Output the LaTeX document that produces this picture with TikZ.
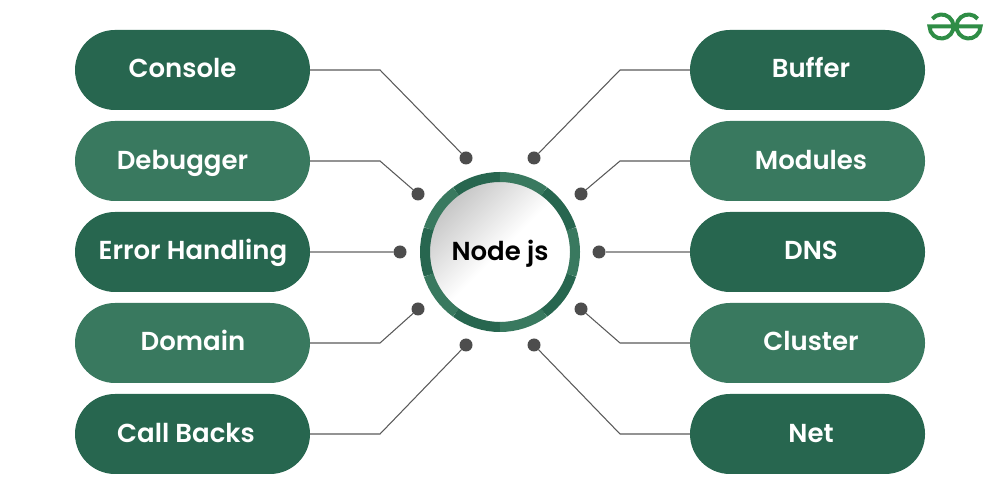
\documentclass[tikz,border=0pt]{standalone}
\usepackage{fontspec}
\setmainfont{Poppins SemiBold}
\definecolor{pilldark}{HTML}{27664F}
\definecolor{pilllight}{HTML}{39795F}
\definecolor{dotgray}{HTML}{4D4D4D}
\definecolor{gfggreen}{HTML}{2F8D46}
\tikzset{
  darkpill/.style={fill=pilldark,rounded corners=0.4cm,minimum width=2.35cm,minimum height=0.8cm,inner sep=0pt,outer sep=0pt},
  lightpill/.style={darkpill,fill=pilllight},
  pilltext/.style={text=white,font=\fontsize{7.4}{9}\selectfont,inner sep=0pt,anchor=base},
  enddot/.style={circle,fill=dotgray,minimum size=0.13cm,inner sep=0pt,outer sep=0pt},
  wire/.style={draw=black!65,line width=0.3pt},
  flatwire/.style={draw=black!40,line width=0.5pt},
  ringdark/.style={draw=pilldark,line width=0.1cm},
  ringlight/.style={draw=pilllight,line width=0.1cm},
  logoline/.style={draw=gfggreen,line width=0.04cm}
}
\begin{document}
\begin{tikzpicture}
      \useasboundingbox (0,0) rectangle (10,5);
      % left column
      \node[darkpill] (console) at (1.925,4.30) {};
      \node[lightpill] (debugger) at (1.925,3.39) {};
      \node[darkpill] (error) at (1.925,2.48) {};
      \node[lightpill] (domain) at (1.925,1.57) {};
      \node[darkpill] (callbacks) at (1.925,0.66) {};
      % right column
      \node[darkpill] (buffer) at (8.075,4.30) {};
      \node[lightpill] (modules) at (8.075,3.39) {};
      \node[darkpill] (dns) at (8.075,2.48) {};
      \node[lightpill] (cluster) at (8.075,1.57) {};
      \node[darkpill] (net) at (8.075,0.66) {};
      % labels
      \node[pilltext] (consoletext) at (1.825,4.22) {Console};
      \node[pilltext] (debuggertext) at (1.825,3.30) {Debugger};
      \node[pilltext] (errortext) at (1.93,2.40) {Error Handling};
      \node[pilltext] (domaintext) at (1.93,1.49) {Domain};
      \node[pilltext] (callbackstext) at (1.86,0.57) {Call Backs};
      \node[pilltext] (buffertext) at (8.11,4.22) {Buffer};
      \node[pilltext] (modulestext) at (8.11,3.30) {Modules};
      \node[pilltext] (dnstext) at (8.11,2.40) {DNS};
      \node[pilltext] (clustertext) at (8.11,1.49) {Cluster};
      \node[pilltext] (nettext) at (8.11,0.57) {Net};
      % dots
      \node[enddot] (consoledot) at (4.66,3.42) {};
      \node[enddot] (debuggerdot) at (4.18,3.06) {};
      \node[enddot] (errordot) at (4.00,2.48) {};
      \node[enddot] (domaindot) at (4.18,1.91) {};
      \node[enddot] (callbacksdot) at (4.66,1.55) {};
      \node[enddot] (bufferdot) at (5.34,3.42) {};
      \node[enddot] (modulesdot) at (5.81,3.06) {};
      \node[enddot] (dnsdot) at (5.99,2.48) {};
      \node[enddot] (clusterdot) at (5.81,1.91) {};
      \node[enddot] (netdot) at (5.34,1.55) {};
      % bends
      \coordinate (consolebend) at (3.80,4.30);
      \coordinate (debuggerbend) at (3.80,3.39);
      \coordinate (domainbend) at (3.80,1.57);
      \coordinate (callbacksbend) at (3.80,0.66);
      \coordinate (bufferbend) at (6.20,4.30);
      \coordinate (modulesbend) at (6.20,3.39);
      \coordinate (clusterbend) at (6.20,1.57);
      \coordinate (netbend) at (6.20,0.66);
      \begin{scope}[wire]
        \draw (console.east) -- (consolebend) -- (consoledot);
        \draw (debugger.east) -- (debuggerbend) -- (debuggerdot);
        \draw[flatwire] (error.east) -- (errordot);
        \draw (domain.east) -- (domainbend) -- (domaindot);
        \draw (callbacks.east) -- (callbacksbend) -- (callbacksdot);
        \draw (buffer.west) -- (bufferbend) -- (bufferdot);
        \draw (modules.west) -- (modulesbend) -- (modulesdot);
        \draw[flatwire] (dns.west) -- (dnsdot);
        \draw (cluster.west) -- (clusterbend) -- (clusterdot);
        \draw (net.west) -- (netbend) -- (netdot);
      \end{scope}
      % centre
      \node[circle,minimum size=1.41cm,inner sep=0pt,draw=black!22,line width=0.25pt,
        shading=axis,top color=black!22,bottom color=white,middle color=white,shading angle=45] (nodejs) at (5.00,2.48) {};
      \node[pilltext,text=black] (nodejstext) at (5.00,2.39) {Node js};
      \begin{scope}[shift={(5.00,2.48)}]
        \draw[ringdark] (90:0.75) arc (90:126:0.75);
        \draw[ringlight] (126:0.75) arc (126:162:0.75);
        \draw[ringdark] (162:0.75) arc (162:198:0.75);
        \draw[ringlight] (198:0.75) arc (198:234:0.75);
        \draw[ringdark] (234:0.75) arc (234:270:0.75);
        \draw[ringlight] (270:0.75) arc (270:306:0.75);
        \draw[ringdark] (306:0.75) arc (306:342:0.75);
        \draw[ringlight] (342:0.75) arc (342:378:0.75);
        \draw[ringdark] (18:0.75) arc (18:54:0.75);
        \draw[ringlight] (54:0.75) arc (54:90:0.75);
      \end{scope}
      % logo
      \begin{scope}[shift={(9.55,4.735)}]
        \draw[logoline] (-0.135,0) ++(140:0.12) arc (140:-180:0.12) -- (0,0);
        \draw[logoline] (0.135,0) ++(40:0.12) arc (40:360:0.12)  -- (0,0);
      \end{scope}
    \end{tikzpicture}
\end{document}
